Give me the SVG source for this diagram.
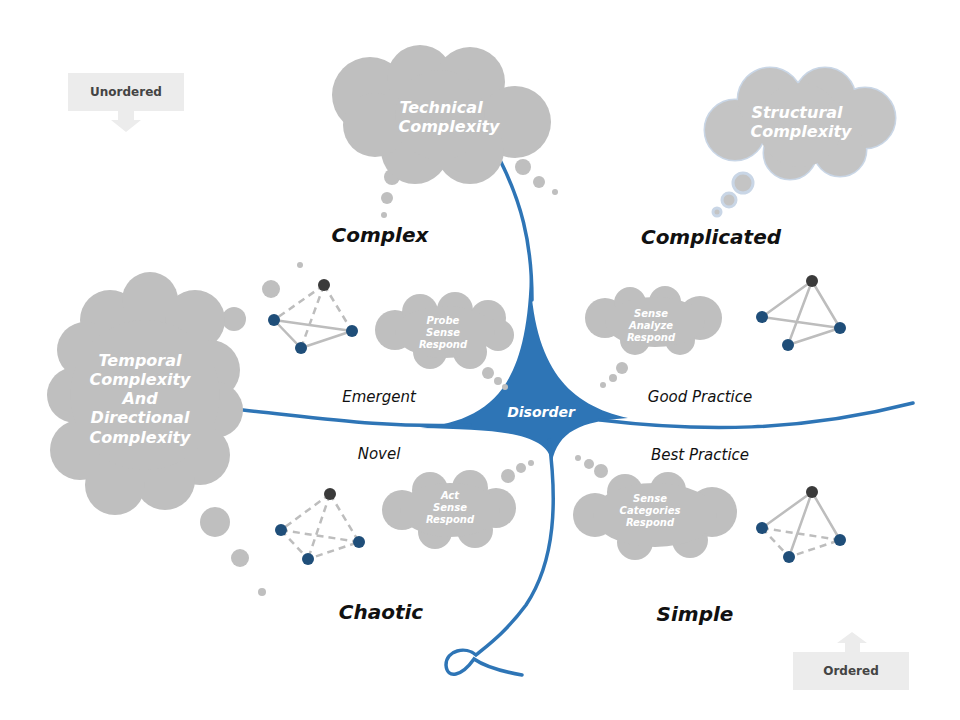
<svg xmlns="http://www.w3.org/2000/svg" width="960" height="720" viewBox="0 0 960 720">
<style>
.c{fill:#bfbfbf}
.ct{fill:#fff;font-family:"DejaVu Sans",sans-serif;font-weight:bold;font-style:italic;text-anchor:middle}
.lb{fill:#111;font-family:"DejaVu Sans",sans-serif;font-weight:bold;font-style:italic;font-size:20px;text-anchor:middle}
.it{fill:#111;font-family:"DejaVu Sans",sans-serif;font-style:italic;font-size:15px;text-anchor:middle}
.ln{stroke:#bdbdbd;stroke-width:2.5;fill:none}
.ds{stroke-dasharray:7 5}
.nb{fill:#1f4e79}.nd{fill:#3a3a3a}
.ax{stroke:#2e75b6;stroke-width:3.5;fill:none;stroke-linecap:round}
.box{fill:#ececec}
.bt{font-family:"DejaVu Sans",sans-serif;font-weight:bold;font-size:12px;fill:#444;text-anchor:middle}
</style>
<rect width="960" height="720" fill="#fff"/>
<g id="unordered"><polygon points="118,111 134,111 134,120 141,120 126,132 111,120 118,120" fill="#ececec"/><rect class="box" x="68" y="73" width="116" height="38"/><text class="bt" x="126" y="96">Unordered</text></g>
<g id="ordered"><polygon points="845,652 860,652 860,643 867,643 852,632 837,643 845,643" fill="#ececec"/><rect class="box" x="793" y="652" width="116" height="38"/><text class="bt" x="851" y="675">Ordered</text></g>
<g id="connectors">
<path fill="#2e75b6" d="M530,270 C533,370 570,405 628,418 C580,421 558,432 552,462 C546,432 500,430 420,428 C490,420 528,390 530,270Z"/>
<path class="ax" d="M500,160 C520,200 532,240 532,300"/>
<path class="ax" d="M243,410 C320,418 380,428 470,425"/>
<path class="ax" d="M600,420 C700,432 800,432 913,403"/>
<path class="ax" d="M549,440 C557,500 556,560 526,605 C506,632 488,645 476,655 C466,646 446,650 446,665 C447,680 462,676 474,659 C487,668 505,672 522,675"/>
</g>
<g id="technical">
<circle class="c" cx="392" cy="177" r="8"/><circle class="c" cx="387" cy="198" r="6"/><circle class="c" cx="384" cy="215" r="3"/>
<circle class="c" cx="523" cy="167" r="8"/><circle class="c" cx="539" cy="182" r="6"/><circle class="c" cx="555" cy="192" r="3"/>
<circle class="c" cx="370" cy="95" r="38"/><circle class="c" cx="420" cy="78" r="33"/><circle class="c" cx="470" cy="82" r="35"/><circle class="c" cx="515" cy="122" r="36"/><circle class="c" cx="470" cy="150" r="34"/><circle class="c" cx="415" cy="150" r="34"/><circle class="c" cx="375" cy="125" r="32"/><circle class="c" cx="440" cy="115" r="45"/>
<text class="ct" font-size="16" x="441" y="113">Technical</text><text class="ct" font-size="16" x="449" y="132">Complexity</text></g>
<g id="structural">
<g fill="#c4c4c4" stroke="#c9d6e6" stroke-width="3">
<circle cx="743" cy="183" r="10"/><circle cx="729" cy="200" r="7"/><circle cx="717" cy="212" r="4"/>
<circle cx="735" cy="130" r="30"/><circle cx="770" cy="100" r="32"/><circle cx="825" cy="98" r="30"/><circle cx="865" cy="118" r="30"/><circle cx="840" cy="150" r="26"/><circle cx="790" cy="153" r="26"/></g>
<g fill="#c4c4c4">
<circle cx="735" cy="130" r="30"/><circle cx="770" cy="100" r="32"/><circle cx="825" cy="98" r="30"/><circle cx="865" cy="118" r="30"/><circle cx="840" cy="150" r="26"/><circle cx="790" cy="153" r="26"/><circle cx="800" cy="125" r="42"/></g>
<text class="ct" font-size="16" x="797" y="118">Structural</text><text class="ct" font-size="16" x="801" y="137">Complexity</text></g>
<g id="temporal">
<circle class="c" cx="234" cy="319" r="12"/><circle class="c" cx="271" cy="289" r="9"/><circle class="c" cx="300" cy="265" r="3"/>
<circle class="c" cx="215" cy="522" r="15"/><circle class="c" cx="240" cy="558" r="9"/><circle class="c" cx="262" cy="592" r="4"/>
<circle class="c" cx="110" cy="320" r="30"/><circle class="c" cx="150" cy="300" r="28"/><circle class="c" cx="195" cy="320" r="30"/><circle class="c" cx="210" cy="370" r="30"/><circle class="c" cx="215" cy="410" r="28"/><circle class="c" cx="200" cy="455" r="30"/><circle class="c" cx="165" cy="480" r="30"/><circle class="c" cx="115" cy="485" r="30"/><circle class="c" cx="80" cy="450" r="30"/><circle class="c" cx="75" cy="395" r="28"/><circle class="c" cx="85" cy="350" r="28"/><circle class="c" cx="145" cy="395" r="75"/>
<text class="ct" font-size="16" x="140" y="366">Temporal</text><text class="ct" font-size="16" x="140" y="385">Complexity</text><text class="ct" font-size="16" x="140" y="404">And</text><text class="ct" font-size="16" x="140" y="423">Directional</text><text class="ct" font-size="16" x="140" y="443">Complexity</text></g>
<g id="probe">
<circle class="c" cx="488" cy="373" r="6"/><circle class="c" cx="498" cy="381" r="4"/><circle class="c" cx="505" cy="387" r="3"/>
<circle class="c" cx="395" cy="330" r="20"/><circle class="c" cx="420" cy="312" r="18"/><circle class="c" cx="455" cy="310" r="18"/><circle class="c" cx="488" cy="318" r="18"/><circle class="c" cx="498" cy="335" r="16"/><circle class="c" cx="470" cy="352" r="17"/><circle class="c" cx="430" cy="352" r="17"/><ellipse class="c" cx="445" cy="332" rx="50" ry="26"/>
<text class="ct" font-size="10" x="443" y="324">Probe</text><text class="ct" font-size="10" x="443" y="336">Sense</text><text class="ct" font-size="10" x="443" y="348">Respond</text></g>
<g id="analyze">
<circle class="c" cx="622" cy="368" r="6"/><circle class="c" cx="613" cy="378" r="4"/><circle class="c" cx="603" cy="385" r="3"/>
<circle class="c" cx="605" cy="318" r="20"/><circle class="c" cx="630" cy="303" r="16"/><circle class="c" cx="665" cy="302" r="16"/><circle class="c" cx="700" cy="318" r="22"/><circle class="c" cx="680" cy="340" r="15"/><circle class="c" cx="635" cy="340" r="15"/><ellipse class="c" cx="655" cy="322" rx="50" ry="25"/>
<text class="ct" font-size="10" x="651" y="317">Sense</text><text class="ct" font-size="10" x="651" y="329">Analyze</text><text class="ct" font-size="10" x="651" y="341">Respond</text></g>
<g id="act">
<circle class="c" cx="508" cy="476" r="7"/><circle class="c" cx="521" cy="468" r="5"/><circle class="c" cx="531" cy="463" r="3"/>
<circle class="c" cx="402" cy="510" r="20"/><circle class="c" cx="430" cy="490" r="18"/><circle class="c" cx="470" cy="488" r="18"/><circle class="c" cx="496" cy="508" r="20"/><circle class="c" cx="475" cy="530" r="18"/><circle class="c" cx="435" cy="532" r="17"/><ellipse class="c" cx="450" cy="510" rx="50" ry="27"/>
<text class="ct" font-size="10" x="450" y="499">Act</text><text class="ct" font-size="10" x="450" y="511">Sense</text><text class="ct" font-size="10" x="450" y="523">Respond</text></g>
<g id="categories">
<circle class="c" cx="601" cy="471" r="7"/><circle class="c" cx="589" cy="464" r="5"/><circle class="c" cx="578" cy="458" r="3"/>
<circle class="c" cx="595" cy="515" r="22"/><circle class="c" cx="625" cy="492" r="18"/><circle class="c" cx="668" cy="490" r="18"/><circle class="c" cx="712" cy="512" r="25"/><circle class="c" cx="690" cy="540" r="18"/><circle class="c" cx="635" cy="542" r="18"/><ellipse class="c" cx="655" cy="515" rx="62" ry="32"/>
<text class="ct" font-size="10" x="650" y="502">Sense</text><text class="ct" font-size="10" x="650" y="514">Categories</text><text class="ct" font-size="10" x="650" y="526">Respond</text></g>
<g id="net-complex">
<path class="ln ds" d="M324,285L274,320M324,285L352,331M324,285L301,348"/><path class="ln" d="M274,320L352,331M274,320L301,348L352,331"/>
<circle class="nd" cx="324" cy="285" r="6"/><circle class="nb" cx="274" cy="320" r="6"/><circle class="nb" cx="352" cy="331" r="6"/><circle class="nb" cx="301" cy="348" r="6"/></g>
<g id="net-complicated">
<path class="ln" d="M812,281L762,317M812,281L840,328M812,281L788,345M762,317L840,328M788,345L840,328"/>
<circle class="nd" cx="812" cy="281" r="6"/><circle class="nb" cx="762" cy="317" r="6"/><circle class="nb" cx="840" cy="328" r="6"/><circle class="nb" cx="788" cy="345" r="6"/></g>
<g id="net-chaotic">
<path class="ln ds" d="M330,494L281,530M330,494L359,542M330,494L308,559M281,530L359,542M281,530L308,559L359,542"/>
<circle class="nd" cx="330" cy="494" r="6"/><circle class="nb" cx="281" cy="530" r="6"/><circle class="nb" cx="359" cy="542" r="6"/><circle class="nb" cx="308" cy="559" r="6"/></g>
<g id="net-simple">
<path class="ln" d="M812,492L762,528M812,492L840,540M812,492L789,557"/><path class="ln ds" d="M762,528L840,540M762,528L789,557L840,540"/>
<circle class="nd" cx="812" cy="492" r="6"/><circle class="nb" cx="762" cy="528" r="6"/><circle class="nb" cx="840" cy="540" r="6"/><circle class="nb" cx="789" cy="557" r="6"/></g>
<g id="labels">
<text class="lb" x="380" y="242">Complex</text><text class="lb" x="711" y="244">Complicated</text><text class="lb" x="381" y="619">Chaotic</text><text class="lb" x="695" y="621">Simple</text>
<text class="it" x="379" y="402">Emergent</text><text class="it" x="379" y="459">Novel</text><text class="it" x="700" y="402">Good Practice</text><text class="it" x="700" y="460">Best Practice</text>
<text class="ct" font-size="14" x="541" y="417">Disorder</text></g>
</svg>
